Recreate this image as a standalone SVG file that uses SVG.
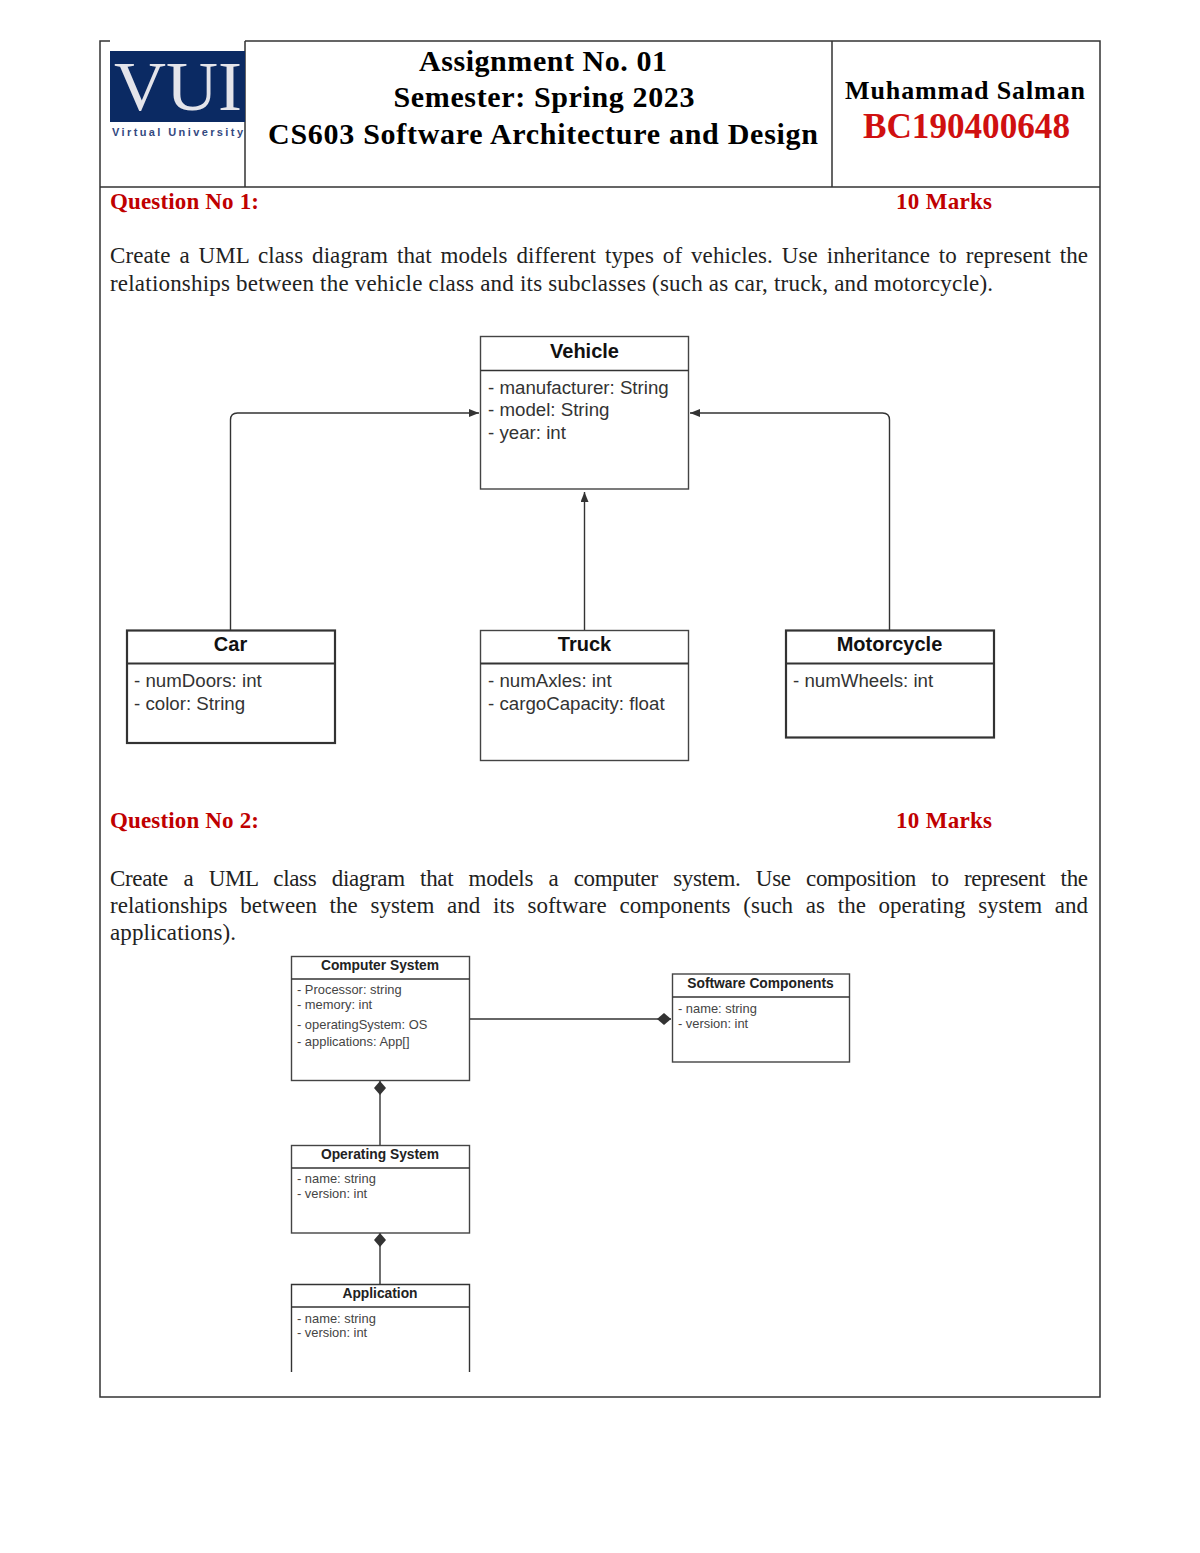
<svg xmlns="http://www.w3.org/2000/svg" width="1200" height="1553" viewBox="0 0 1200 1553">
<style>
.t{font-family:"Liberation Serif","Times New Roman",serif;fill:#222}
.h{font-weight:bold;fill:#000;text-anchor:middle}
.r{font-family:"Liberation Serif",serif;font-weight:bold;fill:#c00000;font-size:23px}
.p{font-size:23px}
.s{font-family:"Liberation Sans",Arial,sans-serif;fill:#333}
.cn{font-weight:bold;font-size:20px;text-anchor:middle;fill:#111}
.a{font-size:18.700px}
.cn2{font-weight:bold;font-size:13.800px;text-anchor:middle;fill:#222}
.a2{font-size:12.900px;fill:#444}
.b{fill:#fff;stroke:#444;stroke-width:1.4}
.bb{fill:#fff;stroke:#333;stroke-width:2.2}
.l{fill:none;stroke:#333;stroke-width:1.4}
.f{fill:none;stroke:#333;stroke-width:1.5}
</style>
<defs>
<marker id="arr" viewBox="0 0 10 8" refX="10" refY="4" markerWidth="10" markerHeight="8" markerUnits="userSpaceOnUse" orient="auto"><path d="M0 0L10 4L0 8z" fill="#333"/></marker>
<marker id="dia" viewBox="0 0 14 12" refX="14" refY="6" markerWidth="14" markerHeight="12" markerUnits="userSpaceOnUse" orient="auto"><path d="M0 6L7 0L14 6L7 12z" fill="#333"/></marker>
</defs>
<rect width="1200" height="1553" fill="#fff"/>
<g id="frame">
<path class="f" d="M110 41H100V1397H1100V41H245M245 41V187M832 41V187M100 187H1100"/>
</g>
<g id="logo">
<rect x="110" y="51" width="135" height="71" fill="#0b2a63"/>
<text x="114" y="110" font-family="Liberation Serif,serif" font-size="70" fill="#e4e4ea" textLength="128" lengthAdjust="spacingAndGlyphs">VUI</text>
<text x="112" y="135.500" font-family="Liberation Sans,sans-serif" font-weight="bold" font-size="11" fill="#33497f" textLength="131">Virtual University</text>
</g>
<g id="header">
<text class="t h" x="543" y="71" font-size="30" textLength="248">Assignment No. 01</text>
<text class="t h" x="544" y="107" font-size="30" textLength="301">Semester: Spring 2023</text>
<text class="t h" x="543" y="144" font-size="30" textLength="550">CS603 Software Architecture and Design</text>
<text class="t h" x="965" y="99" font-size="26" textLength="240">Muhammad Salman</text>
<text class="h" x="966.500" y="138" font-family="Liberation Serif,serif" font-size="36" textLength="207" lengthAdjust="spacingAndGlyphs" style="fill:#d01010">BC190400648</text>
</g>
<g id="question1">
<text class="r" x="110" y="209" textLength="149">Question No 1:</text>
<text class="r" x="896" y="209" textLength="96">10 Marks</text>
<text class="t p" x="110" y="263" textLength="978" word-spacing="3">Create a UML class diagram that models different types of vehicles. Use inheritance to represent the</text>
<text class="t p" x="110" y="291" textLength="883">relationships between the vehicle class and its subclasses (such as car, truck, and motorcycle).</text>
</g>
<g id="connectors1">
<path class="l" marker-end="url(#arr)" d="M230.500 630V420Q230.500 413 237.500 413H479"/>
<path class="l" marker-end="url(#arr)" d="M889.500 630V420Q889.500 413 882.500 413H690"/>
<path class="l" marker-end="url(#arr)" d="M584.500 630V492"/>
</g>
<g id="vehicle">
<rect class="b" x="480.500" y="336.500" width="208" height="152.500"/>
<path class="l" d="M480.500 370.500H688.500"/>
<text class="s cn" x="584.500" y="358">Vehicle</text>
<text class="s a" x="488" y="394">- manufacturer: String</text>
<text class="s a" x="488" y="416">- model: String</text>
<text class="s a" x="488" y="439">- year: int</text>
</g>
<g id="car">
<rect class="bb" x="127" y="630.500" width="208" height="112.500"/>
<path class="bb" d="M127 663.500H335"/>
<text class="s cn" x="230.500" y="651">Car</text>
<text class="s a" x="134" y="687">- numDoors: int</text>
<text class="s a" x="134" y="710">- color: String</text>
</g>
<g id="truck">
<rect class="b" x="480.500" y="630.500" width="208" height="130"/>
<path class="bb" d="M480.500 663.500H688.500"/>
<text class="s cn" x="584.500" y="651">Truck</text>
<text class="s a" x="488" y="687">- numAxles: int</text>
<text class="s a" x="488" y="710">- cargoCapacity: float</text>
</g>
<g id="motorcycle">
<rect class="bb" x="786" y="630.500" width="208" height="107"/>
<path class="bb" d="M786 663.500H994"/>
<text class="s cn" x="889.500" y="651">Motorcycle</text>
<text class="s a" x="793" y="687">- numWheels: int</text>
</g>
<g id="question2">
<text class="r" x="110" y="828" textLength="149">Question No 2:</text>
<text class="r" x="896" y="828" textLength="96">10 Marks</text>
<text class="t p" x="110" y="886" textLength="978" word-spacing="10">Create a UML class diagram that models a computer system. Use composition to represent the</text>
<text class="t p" x="110" y="913" textLength="978" word-spacing="7">relationships between the system and its software components (such as the operating system and</text>
<text class="t p" x="110" y="940" textLength="126">applications).</text>
</g>
<g id="connectors2">
<path class="l" marker-end="url(#dia)" d="M469 1019H671"/>
<path class="l" marker-end="url(#dia)" d="M380 1145V1081"/>
<path class="l" marker-end="url(#dia)" d="M380 1284V1233"/>
</g>
<g id="computer-system">
<rect class="b" x="291.500" y="956.500" width="178" height="124"/>
<path class="l" d="M291.500 979H469.500"/>
<text class="s cn2" x="380" y="970">Computer System</text>
<text class="s a2" x="297" y="994">- Processor: string</text>
<text class="s a2" x="297" y="1009">- memory: int</text>
<text class="s a2" x="297" y="1029">- operatingSystem: OS</text>
<text class="s a2" x="297" y="1046">- applications: App[]</text>
</g>
<g id="software-components">
<rect class="b" x="672.500" y="974" width="177" height="88"/>
<path class="l" d="M672.500 997H849.500"/>
<text class="s cn2" x="760.500" y="988">Software Components</text>
<text class="s a2" x="678" y="1013">- name: string</text>
<text class="s a2" x="678" y="1028">- version: int</text>
</g>
<g id="operating-system">
<rect class="b" x="291.500" y="1145.500" width="178" height="87.500"/>
<path class="l" d="M291.500 1168H469.500"/>
<text class="s cn2" x="380" y="1159">Operating System</text>
<text class="s a2" x="297" y="1183">- name: string</text>
<text class="s a2" x="297" y="1198">- version: int</text>
</g>
<g id="application">
<path class="l" d="M291.500 1372V1284.500H469.500V1372"/>
<path class="l" d="M291.500 1307H469.500"/>
<text class="s cn2" x="380" y="1298">Application</text>
<text class="s a2" x="297" y="1323">- name: string</text>
<text class="s a2" x="297" y="1337">- version: int</text>
</g>
</svg>
